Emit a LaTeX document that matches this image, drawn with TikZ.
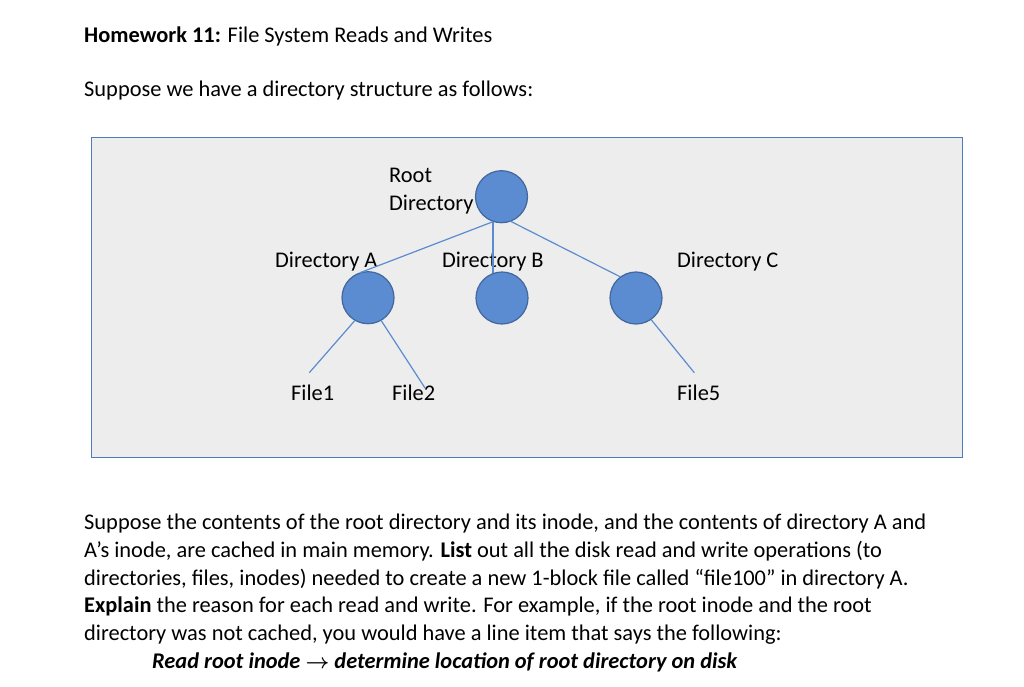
\documentclass[tikz,border=0pt]{standalone}
\usepackage{fontspec}
\setmainfont{Carlito}
\begin{document}
\begin{tikzpicture}[x=1pt,y=-1pt,
  txt/.style={anchor=base west,inner sep=0pt,font=\fontsize{22.4}{26}\selectfont},
  dir/.style={circle,draw=circb,fill=circ,line width=1.2pt,minimum size=52pt,inner sep=0pt},
  edge/.style={draw=lnc,line width=1.2pt}]
\definecolor{circ}{HTML}{5B8BD0}
\definecolor{circb}{HTML}{41679E}
\definecolor{lnc}{HTML}{5B8BD0}
\definecolor{boxb}{HTML}{4F79BC}
\definecolor{boxf}{HTML}{EDEDED}
\useasboundingbox (0,0) rectangle (1024,687);
\fill[white] (0,0) rectangle (1024,687);
\node[txt] (title) at (84,43) {\textbf{Homework 11:} File System Reads and Writes};
\node[txt] (intro) at (84,97) {Suppose we have a directory structure as follows:};
\draw[draw=boxb,fill=boxf,line width=1pt] (91,138) rectangle (962,457);
\node[dir] (root) at (501.5,196.7) {};
\node[dir] (a) at (368,297.7) {};
\node[dir] (b) at (502,298) {};
\node[dir] (c) at (636,298) {};
\coordinate (r1) at (493,221.7); \coordinate (a1) at (360,272.7);
\coordinate (b1) at (493,272.7);
\coordinate (r3) at (510,221); \coordinate (c1) at (620,276.7);
\coordinate (f1) at (309.3,372.7); \coordinate (f2) at (425,388);
\coordinate (f5) at (694.3,372.7);
\node[txt] (lroot) at (389,182.7) {Root};
\node[txt] (lrootd) at (389,210.7) {Directory};
\node[txt] (la) at (275,267) {Directory A};
\node[txt] (lb) at (442,267) {Directory B};
\node[txt] (lc) at (677,267) {Directory C};
\node[txt] (lf1) at (291,400) {File1};
\node[txt] (lf2) at (392,400) {File2};
\node[txt] (lf5) at (677,400) {File5};
\draw[edge] (r1) -- (a1);
\draw[edge] (r1) -- (b1);
\draw[edge] (r3) -- (c1);
\draw[edge] (a.240) -- (f1);
\draw[edge] (a.300) -- (f2);
\draw[edge] (c.305) -- (f5);
\node[txt] (p1) at (84,529) {Suppose the contents of the root directory and its inode, and the contents of directory A and};
\node[txt] (p2) at (84,557) {A's inode, are cached in main memory. \textbf{List} out all the disk read and write operations (to};
\node[txt] (p3) at (84,585) {directories, files, inodes) needed to create a new 1-block file called ``file100'' in directory A.};
\node[txt] (p4) at (84,612) {\textbf{Explain} the reason for each read and write. For example, if the root inode and the root};
\node[txt] (p5) at (84,640) {directory was not cached, you would have a line item that says the following:};
\node[txt] (p6) at (152,668) {\itshape\bfseries Read root inode {\upshape\boldmath$\rightarrow$} determine location of root directory on disk};
\end{tikzpicture}
\end{document}
